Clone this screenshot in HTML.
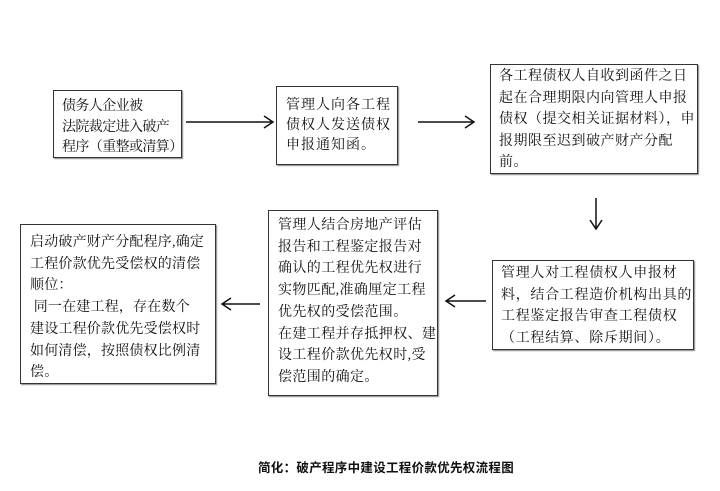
<!DOCTYPE html>
<html><head><meta charset="utf-8"><style>
body{margin:0;width:720px;height:491px;background:#fff;position:relative;overflow:hidden;font-family:"Liberation Serif","Noto Serif CJK SC",serif;color:#111}
.b{position:absolute;border:1.5px solid #333;box-sizing:border-box;font-size:14px;line-height:22px;white-space:nowrap;box-shadow:1px 1px 1px #888}
.cap{position:absolute;left:258px;top:457px;font-size:12.5px;font-weight:bold;font-family:"Liberation Sans","Noto Sans CJK SC",sans-serif;letter-spacing:0.3px}
svg{position:absolute;left:0;top:0}
</style></head><body>
<div class="b" style="left:53px;top:90px;width:129px;height:68px;padding:6px 0 0 8px;line-height:20.5px;letter-spacing:-0.6px">债务人企业被<br>法院裁定进入破产<br>程序（重整或清算）</div>
<div class="b" style="left:276px;top:86px;width:122px;height:79px;padding:9px 0 0 9px;line-height:20px;letter-spacing:1px">管理人向各工程<br>债权人发送债权<br>申报通知函。</div>
<div class="b" style="left:490px;top:64px;width:208px;height:110px;padding:1px 0 0 8px;line-height:21.5px;letter-spacing:0.5px">各工程债权人自收到函件之日<br>起在合理期限内向管理人申报<br>债权（提交相关证据材料），申<br>报期限至迟到破产财产分配<br>前。</div>
<div class="b" style="left:492px;top:260px;width:202px;height:90px;padding:2px 0 0 8px;line-height:21.5px;letter-spacing:0.7px">管理人对工程债权人申报材<br>料，结合工程造价机构出具的<br>工程鉴定报告审查工程债权<br>（工程结算、除斥期间）。</div>
<div class="b" style="left:268px;top:210px;width:170px;height:186px;padding:4px 0 0 9px;line-height:21.7px;letter-spacing:0.4px">管理人结合房地产评估<br>报告和工程鉴定报告对<br>确认的工程优先权进行<br>实物匹配,准确厘定工程<br>优先权的受偿范围。<br>在建工程并存抵押权、建<br>设工程价款优先权时,受<br>偿范围的确定。</div>
<div class="b" style="left:20px;top:224px;width:196px;height:160px;padding:7px 0 0 9px;line-height:21.7px;letter-spacing:0.2px">启动破产财产分配程序,确定<br>工程价款优先受偿权的清偿<br>顺位：<br>&nbsp;同一在建工程，存在数个<br>建设工程价款优先受偿权时<br>如何清偿，按照债权比例清<br>偿。</div>
<svg width="720" height="491" fill="none" stroke="#111" stroke-width="1.5">
<path d="M186 122H272M264 116L273 122L264 128"/>
<path d="M418 122H473M465 116L474 122L465 128"/>
<path d="M596 198V228M590 220L596 229L602 220"/>
<path d="M486 301H447M455 295L446 301L455 307"/>
<path d="M260 304H223M231 298L222 304L231 310"/>
</svg>
<div class="cap">简化：破产程序中建设工程价款优先权流程图</div>
</body></html>
